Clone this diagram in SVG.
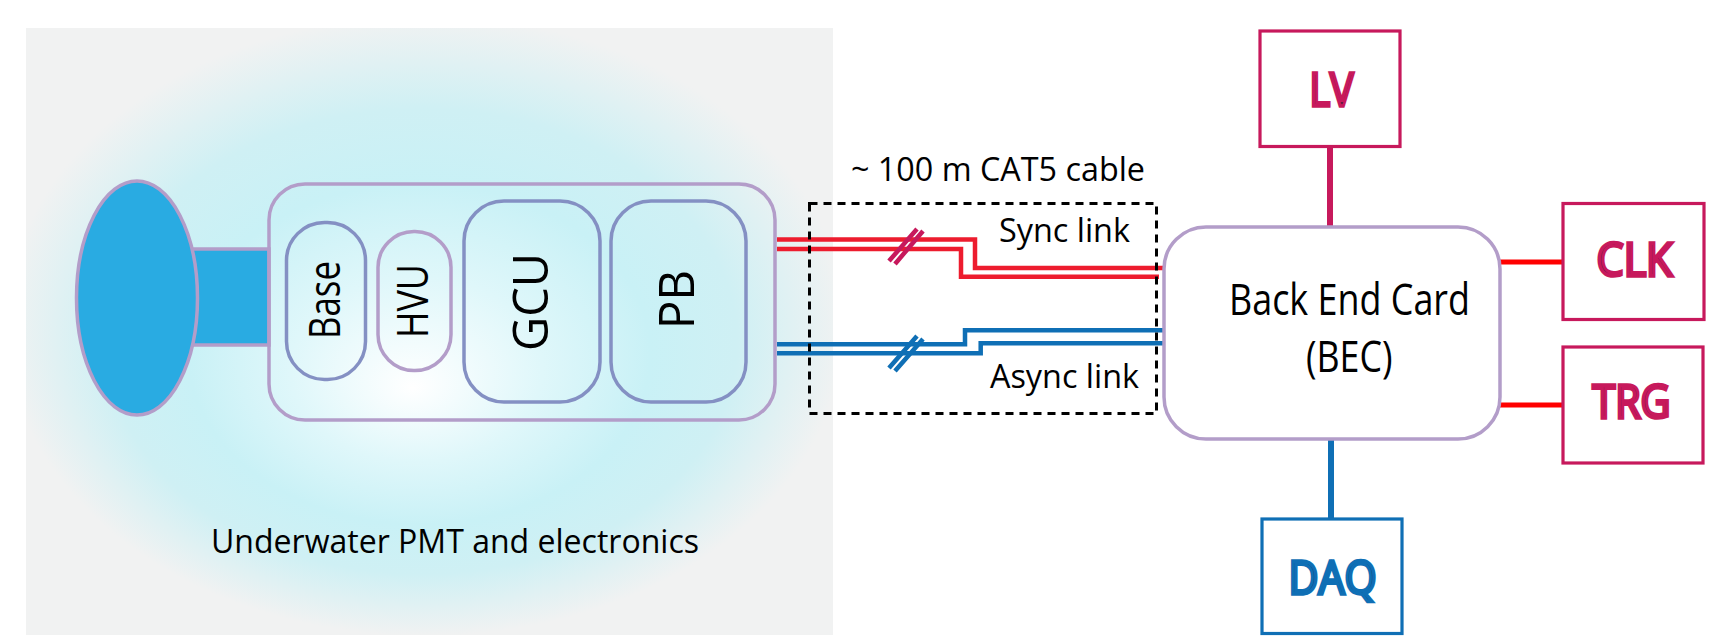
<svg xmlns="http://www.w3.org/2000/svg" width="1735" height="642" viewBox="0 0 1735 642">
<style>
text{font-family:"Open Sans","Noto Sans","Liberation Sans",sans-serif;fill:#000}
.pur{fill:none;stroke:#b39dc9;stroke-width:3.5}
.blu{fill:none;stroke:#8490c3;stroke-width:3.5}
.cr{fill:none;stroke:#c7195c;stroke-width:3.2}
.bl{fill:none;stroke:#0f6fb5;stroke-width:3.2}
.ws{font-size:33px}
.lab{stroke-width:3.4px}
.lc{fill:#5a1a40;stroke:#c7195c}
.lb{fill:#12406f;stroke:#0f6fb5}
.wr{fill:none;stroke:#ed1c2e;stroke-width:4.5}
.wb{fill:none;stroke:#0f6fb5;stroke-width:4.5}
</style>
<defs>
<radialGradient id="glow" gradientUnits="userSpaceOnUse" cx="0" cy="0" r="1" fx="-0.03" fy="0.2" gradientTransform="translate(425 326) scale(420 310)">
<stop offset="0" stop-color="#ffffff"/>
<stop offset="0.3" stop-color="#dff7fa"/>
<stop offset="0.55" stop-color="#c9f1f6"/>
<stop offset="0.75" stop-color="#cff0f4"/>
<stop offset="1" stop-color="#f1f2f2"/>
</radialGradient>
</defs>
<g id="panel">
<rect x="26" y="28" width="807" height="607" fill="#f1f2f2"/>
<rect x="26" y="28" width="807" height="607" fill="url(#glow)"/>
<text x="211" y="553" class="ws" textLength="488" lengthAdjust="spacingAndGlyphs">Underwater PMT and electronics</text>
</g>
<g id="connectors">
<path class="wr" d="M777 239.500H975V268H1163"/>
<path class="wr" d="M777 249H961V276.700H1159"/>
<path class="wb" d="M777 344.300H965V330.300H1163"/>
<path class="wb" d="M777 353.300H980.700V343.300H1163"/>
<path class="cr" style="stroke-width:4.500" d="M889 261L917 229M895 264L923 231"/>
<path class="bl" style="stroke-width:4.500" d="M889 368L917 336M895 371L923 339"/>
<path fill="none" stroke="#c7195c" stroke-width="6" d="M1330 146V227"/>
<path fill="none" stroke="#0f6fb5" stroke-width="6" d="M1331 439V519"/>
<path fill="none" stroke="#ff0000" stroke-width="5" d="M1499 262H1563M1499 405H1563"/>
</g>
<g id="cable">
<rect x="809.500" y="203.500" width="347" height="210" fill="none" stroke="#000" stroke-width="3" stroke-dasharray="8 6"/>
<text x="851" y="181" class="ws" textLength="294" lengthAdjust="spacingAndGlyphs">~ 100 m CAT5 cable</text>
<text x="999" y="242" class="ws" textLength="131" lengthAdjust="spacingAndGlyphs">Sync link</text>
<text x="990" y="388" class="ws" textLength="149" lengthAdjust="spacingAndGlyphs">Async link</text>
</g>
<g id="pmt">
<rect x="191" y="249" width="78" height="96" fill="#29abe2" stroke="#b39dc9" stroke-width="3.5"/>
<ellipse cx="137" cy="298" rx="60.500" ry="117" fill="#29abe2" stroke="#b39dc9" stroke-width="3.5"/>
</g>
<g id="electronics"><rect x="269" y="184" width="506" height="236" rx="36" ry="36" class="pur"/></g>
<g id="base"><rect x="286.500" y="222.500" width="79" height="157" rx="38" ry="38" class="blu"/>
<text transform="translate(340 339) rotate(-90)" font-size="43" textLength="78" lengthAdjust="spacingAndGlyphs">Base</text></g>
<g id="hvu"><rect x="378" y="231.500" width="73" height="139" rx="36" ry="36" class="pur"/>
<text transform="translate(428 338) rotate(-90)" font-size="43" textLength="74" lengthAdjust="spacingAndGlyphs">HVU</text></g>
<g id="gcu"><rect x="464" y="201" width="136" height="201" rx="40" ry="40" class="blu"/>
<text transform="translate(548 351) rotate(-90)" font-size="50" textLength="98" lengthAdjust="spacingAndGlyphs">GCU</text></g>
<g id="pb"><rect x="611" y="201" width="135" height="201" rx="40" ry="40" class="blu"/>
<text transform="translate(694 329) rotate(-90)" font-size="50" textLength="59" lengthAdjust="spacingAndGlyphs">PB</text></g>
<g id="bec"><rect x="1164" y="227" width="336" height="212" rx="42" ry="42" class="pur" style="fill:#fff"/>
<text x="1229" y="314.500" font-size="43" textLength="241" lengthAdjust="spacingAndGlyphs">Back End Card</text>
<text x="1306" y="371.500" font-size="43" textLength="86.500" lengthAdjust="spacingAndGlyphs">(BEC)</text></g>
<g id="lv"><rect x="1260" y="31" width="140" height="115.500" class="cr"/>
<text x="1309.500" y="106" font-size="45" class="lab lc" textLength="44" lengthAdjust="spacingAndGlyphs">LV</text></g>
<g id="clk"><rect x="1563" y="203.500" width="141" height="116" class="cr"/>
<text x="1596.500" y="275.500" font-size="45" class="lab lc" textLength="76" lengthAdjust="spacingAndGlyphs">CLK</text></g>
<g id="trg"><rect x="1563" y="347" width="140" height="116" class="cr"/>
<text x="1592.500" y="417.500" font-size="45" class="lab lc" textLength="78" lengthAdjust="spacingAndGlyphs">TRG</text></g>
<g id="daq"><rect x="1262" y="519" width="140" height="114.500" class="bl"/>
<text x="1288.500" y="593.500" font-size="45" class="lab lb" textLength="88" lengthAdjust="spacingAndGlyphs">DAQ</text></g>
</svg>
